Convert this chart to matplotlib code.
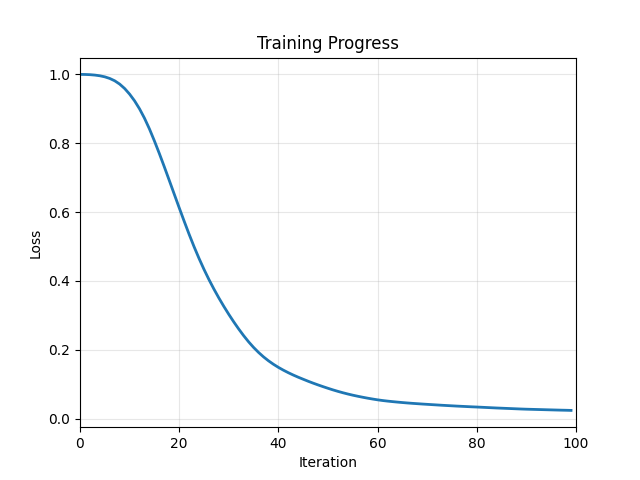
import matplotlib
matplotlib.use("Agg")
import matplotlib.pyplot as plt

iterations = list(range(100))
loss = [
    1.0000, 0.9998, 0.9992, 0.9980, 0.9960, 0.9929, 0.9882, 0.9814, 0.9718, 0.9590,
    0.9427, 0.9232, 0.9000, 0.8728, 0.8416, 0.8068, 0.7700, 0.7315, 0.6920, 0.6522,
    0.6126, 0.5736, 0.5356, 0.4994, 0.4654, 0.4336, 0.4040, 0.3764, 0.3505, 0.3261,
    0.3030, 0.2811, 0.2604, 0.2410, 0.2231, 0.2069, 0.1924, 0.1795, 0.1681, 0.1580,
    0.1490, 0.1409, 0.1335, 0.1267, 0.1204, 0.1145, 0.1087, 0.1032, 0.0980, 0.0930,
    0.0882, 0.0836, 0.0793, 0.0753, 0.0716, 0.0682, 0.0651, 0.0622, 0.0595, 0.0570,
    0.0547, 0.0527, 0.0510, 0.0495, 0.0481, 0.0468, 0.0456, 0.0445, 0.0435, 0.0425,
    0.0416, 0.0407, 0.0398, 0.0389, 0.0381, 0.0373, 0.0365, 0.0358, 0.0351, 0.0344,
    0.0338, 0.0331, 0.0324, 0.0317, 0.0310, 0.0304, 0.0298, 0.0292, 0.0286, 0.0280,
    0.0275, 0.0271, 0.0267, 0.0263, 0.0259, 0.0255, 0.0251, 0.0247, 0.0244, 0.0240,
]

fig, ax = plt.subplots(figsize=(6.4, 4.8), dpi=100)
ax.plot(iterations, loss, color="#1f77b4", linewidth=2)
ax.set_xlim(0, 100)
ax.set_title("Training Progress")
ax.set_xlabel("Iteration")
ax.set_ylabel("Loss")
ax.grid(True, alpha=0.3)
fig.savefig("out.png")
